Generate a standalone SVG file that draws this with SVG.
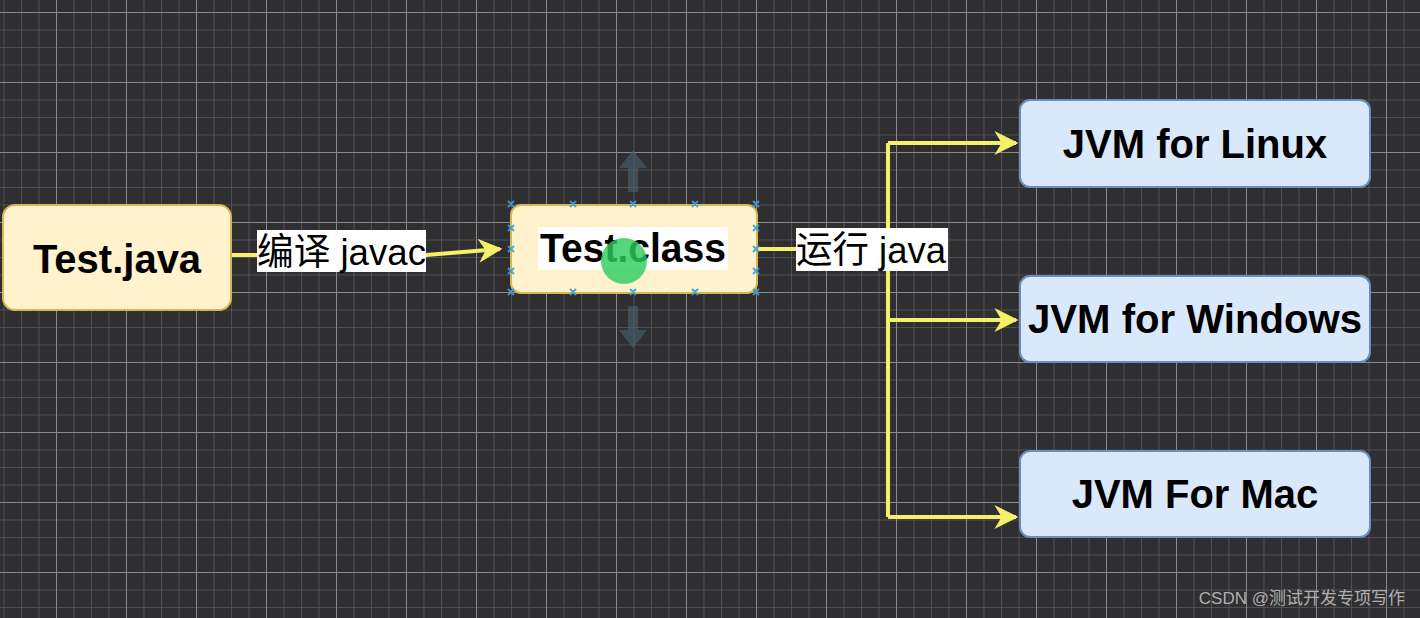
<svg xmlns="http://www.w3.org/2000/svg" width="1420" height="618" viewBox="0 0 1420 618">
<defs>
<pattern id="minor" x="3.5" y="12" width="17.5" height="17.5" patternUnits="userSpaceOnUse"><path d="M0 0H17.5M0 0V17.5" stroke="#5a5a5c" stroke-width="1.5" fill="none"/></pattern>
<pattern id="major" x="56" y="12" width="70" height="70" patternUnits="userSpaceOnUse"><path d="M0 0H70M0 0V70" stroke="#8a8a8c" stroke-width="2" fill="none"/></pattern>
<marker id="ah2" viewBox="0 0 10 10" refX="9" refY="5" markerWidth="28" markerHeight="24" orient="auto" markerUnits="userSpaceOnUse"><path d="M0 0L10 5L0 10L3 5Z" fill="#f5f06a"/></marker>
</defs>
<style>
.y{fill:#fff2cc;stroke:#d6b656;stroke-width:2}
.b{fill:#dae8fc;stroke:#6c8ebf;stroke-width:2}
.t{font-family:"Liberation Sans",Arial,sans-serif;font-weight:bold;font-size:40px;fill:#000;text-anchor:middle}
.l{font-family:"Liberation Sans","Noto Sans CJK SC",sans-serif;font-size:37px;fill:#000}
.e{stroke:#f5f06a;stroke-width:4;fill:none}
.h{stroke:#3aa0d8;stroke-width:2}
</style>
<rect width="1420" height="618" fill="#2f2f31"/>
<rect width="1420" height="618" fill="url(#minor)"/>
<rect width="1420" height="618" fill="url(#major)"/>
<g id="connectors">
<path class="e" d="M231 255H426L500 249" marker-end="url(#ah2)"/>
<path class="e" d="M757 249H888"/>
<path class="e" d="M888 143V517"/>
<path class="e" d="M888 143H1016" marker-end="url(#ah2)"/>
<path class="e" d="M888 320H1016" marker-end="url(#ah2)"/>
<path class="e" d="M888 517H1016" marker-end="url(#ah2)"/>
<g id="label-javac"><rect x="257" y="230" width="169" height="42" fill="#fff"/><text class="l" x="257" y="265" textLength="169" lengthAdjust="spacingAndGlyphs">编译 javac</text></g>
<g id="label-java"><rect x="796" y="228" width="152" height="43" fill="#fff"/><text class="l" x="796" y="263" textLength="150" lengthAdjust="spacingAndGlyphs">运行 java</text></g>
</g>
<g id="node-testjava"><rect class="y" x="3" y="205" width="228" height="105" rx="12"/><text class="t" x="117" y="273">Test.java</text></g>
<g id="node-testclass"><rect class="y" x="511" y="205" width="246" height="88" rx="10"/><rect x="538" y="227" width="190" height="43" fill="#fff"/><text class="t" x="633" y="262" textLength="186" lengthAdjust="spacingAndGlyphs">Test.class</text></g>
<g id="selection" opacity="0.9">
<path d="M633 150l-14 18h9v24h10v-24h9z" fill="#4a6070" opacity="0.7"/>
<path d="M633 348l-14 -18h9v-24h10v24h9z" fill="#4a6070" opacity="0.7"/>
<circle cx="624" cy="261" r="23" fill="#2ecc5e" opacity="0.9"/>
<g class="h">
<path d="M508 201l6 6M514 201l-6 6M570 201l6 6M576 201l-6 6M630 201l6 6M636 201l-6 6M692 201l6 6M698 201l-6 6M753 201l6 6M759 201l-6 6"/>
<path d="M508 289l6 6M514 289l-6 6M570 289l6 6M576 289l-6 6M630 289l6 6M636 289l-6 6M692 289l6 6M698 289l-6 6M753 289l6 6M759 289l-6 6"/>
<path d="M508 225l6 6M514 225l-6 6M508 246l6 6M514 246l-6 6M508 268l6 6M514 268l-6 6M753 225l6 6M759 225l-6 6M753 246l6 6M759 246l-6 6M753 268l6 6M759 268l-6 6"/>
</g>
</g>
<g id="node-linux"><rect class="b" x="1020" y="100" width="350" height="87" rx="10"/><text class="t" x="1195" y="158">JVM for Linux</text></g>
<g id="node-windows"><rect class="b" x="1020" y="276" width="350" height="86" rx="10"/><text class="t" x="1195" y="333" textLength="334" lengthAdjust="spacingAndGlyphs">JVM for Windows</text></g>
<g id="node-mac"><rect class="b" x="1020" y="451" width="350" height="86" rx="10"/><text class="t" x="1195" y="508">JVM For Mac</text></g>
<text x="1405" y="604" text-anchor="end" font-family="'Liberation Sans','Noto Sans CJK SC',sans-serif" font-size="17" fill="#b0b0b0">CSDN @测试开发专项写作</text>
</svg>
